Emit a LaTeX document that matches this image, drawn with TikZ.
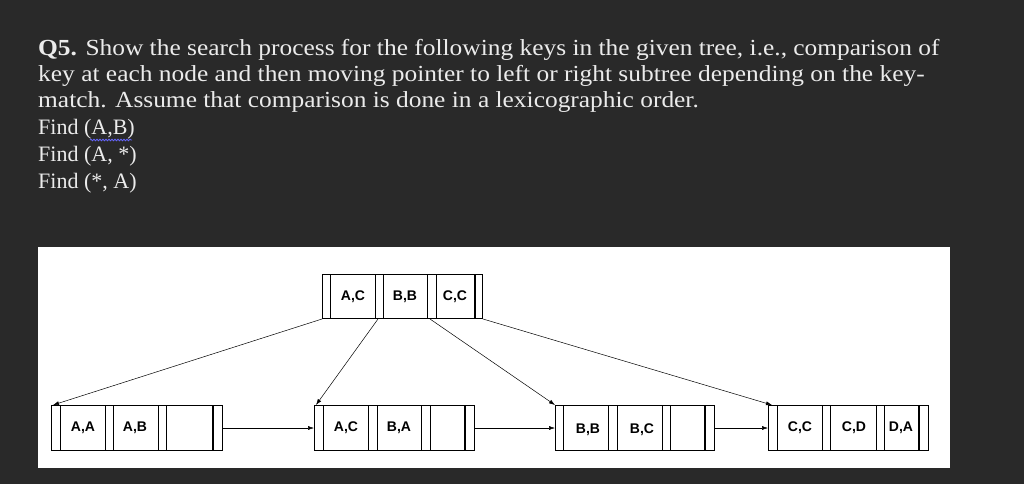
\documentclass[tikz,border=0pt]{standalone}
\usepackage{fontspec}
\setmainfont{Liberation Serif}
\setsansfont{Liberation Sans}
\usetikzlibrary{arrows.meta,decorations.pathmorphing}
\begin{document}
\begin{tikzpicture}[x=1pt,y=-1pt,
  txt/.style={anchor=base west,inner sep=0,text=black!8,font=\fontsize{23}{23}\selectfont,xscale=1.105},
  ftxt/.style={anchor=base west,inner sep=0,text=black!8,font=\fontsize{22}{22}\selectfont},
  key/.style={font=\sffamily\bfseries\fontsize{14}{14}\selectfont,inner sep=0},
  lnk/.style={-{Latex[length=6pt,width=4pt]},line width=0.5pt},
  boxst/.style={draw,line width=1pt,inner sep=0,anchor=north west}]
\fill[black!84] (0,0) rectangle (1024,484);
\useasboundingbox (0,0) rectangle (1024,484);
\fill[white] (38,247) rectangle (950,468);
\node[txt] (t1) at (38,56) {\textbf{Q5.} Show the search process for the following keys in the given tree, i.e., comparison of};
\node[txt] (t2) at (38,82) {key at each node and then moving pointer to left or right subtree depending on the key-};
\node[txt] (t3) at (38,108) {match. Assume that comparison is done in a lexicographic order.};
\node[ftxt] (t4) at (38,135) {Find (A,B)};
\node[ftxt] (t5) at (38,161) {Find (A, *)};
\node[ftxt] (t6) at (38,188) {Find (*, A)};
\draw[blue!60,line width=0.8pt,decorate,decoration={snake,amplitude=0.8pt,segment length=3pt}] (90,140) -- (132,140);
% root
\node[boxst,minimum width=160,minimum height=44] (root) at (322,274) {};
\foreach \xx in {330,375,383,427,436,474} \draw[line width=0.8pt] (\xx,274) -- (\xx,318);
\fill (474,274) rectangle (476,318);
\node[key] (r1) at (353,297) {A,C};
\node[key] (r2) at (405,297) {B,B};
\node[key] (r3) at (455,297) {C,C};
% leaves
\node[boxst,minimum width=171,minimum height=45] (l1) at (51,405) {};
\foreach \xx in {60,105,113,158,166,212} \draw[line width=0.8pt] (\xx,405) -- (\xx,450);
\node[key] (k11) at (83,428) {A,A};
\node[key] (k12) at (135,428) {A,B};
\node[boxst,minimum width=160,minimum height=45] (l2) at (314,405) {};
\foreach \xx in {323,368,377,421,430,464} \draw[line width=0.8pt] (\xx,405) -- (\xx,450);
\node[key] (k21) at (346,428) {A,C};
\node[key] (k22) at (399,428) {B,A};
\node[boxst,minimum width=159,minimum height=45] (l3) at (555,405) {};
\foreach \xx in {563,608,617,662,670,704} \draw[line width=0.8pt] (\xx,405) -- (\xx,450);
\node[key] (k31) at (588,430) {B,B};
\node[key] (k32) at (642,430) {B,C};
\node[boxst,minimum width=160,minimum height=45] (l4) at (768,405) {};
\foreach \xx in {777,822,830,876,884,918} \draw[line width=0.8pt] (\xx,405) -- (\xx,450);
\node[key] (k41) at (800,428) {C,C};
\node[key] (k42) at (854,428) {C,D};
\node[key] (k43) at (901,428) {D,A};
\foreach \xx in {212,464,704,918} \fill (\xx,405) rectangle (\xx+2,450);
% connectors
\draw[lnk] (root.south west) -- ([xshift=2pt]l1.north west);
\draw[lnk] ([xshift=56pt]root.south west) -- ([xshift=2pt]l2.north west);
\draw[lnk] ([xshift=108pt]root.south west) -- (l3.north west);
\draw[lnk] (root.south east) -- ([xshift=4pt]l4.north west);
\draw[lnk] (l1.east) -- (l2.west);
\draw[lnk] (l2.east) -- (l3.west);
\draw[lnk] (l3.east) -- (l4.west);
\end{tikzpicture}
\end{document}
